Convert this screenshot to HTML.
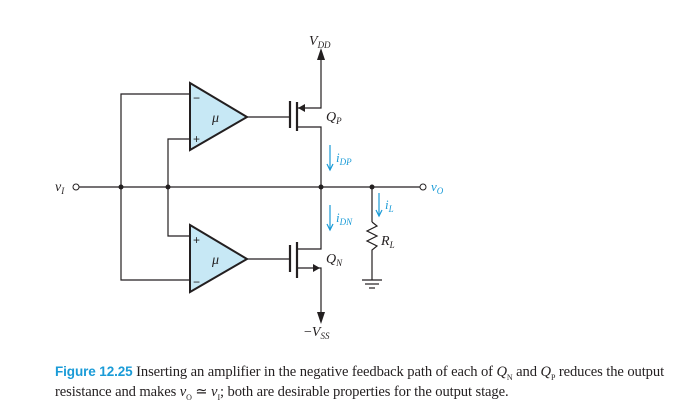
<!DOCTYPE html>
<html><head><style>
body{margin:0;background:#fff;width:684px;height:417px;overflow:hidden;position:relative}
.cap{position:absolute;left:55px;top:364px;width:630px;font-family:"Liberation Serif",serif;font-size:14.6px;line-height:15.5px;color:#231f20;white-space:nowrap;letter-spacing:-0.1px}
.cap b{font-family:"Liberation Sans",sans-serif;color:#1a9bd7;font-size:13.5px}
</style></head><body>
<svg width="684" height="417" style="position:absolute;left:0;top:0" font-family="Liberation Serif,serif" font-style="italic">
<g stroke="#231f20" stroke-width="1.2" fill="none">
<line x1="79" y1="187" x2="420" y2="187"/>
<polyline points="190,94 121,94 121,280 190,280"/>
<polyline points="190,139 168,139 168,236 190,236"/>
<line x1="247" y1="117" x2="290" y2="117"/>
<line x1="247" y1="259" x2="290" y2="259"/>
<polyline points="297,108 321,108 321,56"/>
<polyline points="297,127 321,127 321,187 321,249 297,249"/>
<polyline points="297,268 321,268 321,316"/>
<line x1="372" y1="187" x2="372" y2="222"/>
<polyline points="372,222 377,226 367,231 377,236 367,241 377,246 372,250 372,280"/>
<line x1="362" y1="280" x2="382" y2="280"/><line x1="365" y1="284" x2="379" y2="284"/><line x1="369" y1="288" x2="375" y2="288"/>
</g>
<g stroke="#231f20" stroke-width="2.2">
<line x1="290" y1="101" x2="290" y2="128"/><line x1="297" y1="102" x2="297" y2="131"/>
<line x1="290" y1="245" x2="290" y2="272"/><line x1="297" y1="242" x2="297" y2="278"/>
</g>
<polygon points="190,83 247,117 190,150" fill="#c7e8f5" stroke="#231f20" stroke-width="2"/>
<polygon points="190,225 247,259 190,292" fill="#c7e8f5" stroke="#231f20" stroke-width="2"/>
<g fill="#231f20">
<polygon points="321,48 317,60 325,60"/>
<polygon points="321,324 317,312 325,312"/>
<polygon points="298,108 305,104 305,112"/>
<polygon points="320,268 313,264 313,272"/>
<circle cx="121" cy="187" r="2.5"/><circle cx="168" cy="187" r="2.5"/><circle cx="321" cy="187" r="2.5"/><circle cx="372" cy="187" r="2.5"/>
</g>
<circle cx="76" cy="187" r="3" fill="#fff" stroke="#231f20"/>
<circle cx="423" cy="187" r="3" fill="#fff" stroke="#231f20"/>
<g stroke="#1a9bd7" stroke-width="1.2" fill="none">
<line x1="330" y1="145" x2="330" y2="170"/><polyline points="327,164 330,170 333,164"/>
<line x1="330" y1="205" x2="330" y2="230"/><polyline points="327,224 330,230 333,224"/>
<line x1="379" y1="193" x2="379" y2="216"/><polyline points="376,210 379,216 382,210"/>
</g>
<g fill="#231f20" font-size="14">
<text x="309" y="45">V<tspan font-size="9" dy="3">DD</tspan></text>
<text x="326" y="121">Q<tspan font-size="9" dy="3">P</tspan></text>
<text x="326" y="263">Q<tspan font-size="9" dy="3">N</tspan></text>
<text x="381" y="245">R<tspan font-size="9" dy="3">L</tspan></text>
<text x="304" y="336" font-style="normal">−<tspan font-style="italic">V</tspan><tspan font-size="9" dy="3" font-style="italic">SS</tspan></text>
<text x="212" y="122">μ</text><text x="212" y="264">μ</text>
<text x="55" y="191">v<tspan font-size="9" dy="3">I</tspan></text>
</g>
<g fill="#231f20" font-size="12" font-style="normal" font-family="Liberation Sans,sans-serif">
<text x="193" y="102">−</text><text x="193" y="143">+</text>
<text x="193" y="244">+</text><text x="193" y="286">−</text>
</g>
<g fill="#1a9bd7" font-size="13">
<text x="336" y="162">i<tspan font-size="9" dy="3">DP</tspan></text>
<text x="336" y="222">i<tspan font-size="9" dy="3">DN</tspan></text>
<text x="385" y="209">i<tspan font-size="9" dy="3">L</tspan></text>
<text x="431" y="191">v<tspan font-size="9" dy="3">O</tspan></text>
</g>
</svg>
<div class="cap"><b>Figure 12.25</b> Inserting an amplifier in the negative feedback path of each of <i>Q</i><sub style="font-size:8px">N</sub> and <i>Q</i><sub style="font-size:8px">P</sub> reduces the output<br>resistance and makes <i>v</i><sub style="font-size:8px">O</sub> ≃ <i>v</i><sub style="font-size:8px">I</sub>; both are desirable properties for the output stage.</div>
</body></html>
